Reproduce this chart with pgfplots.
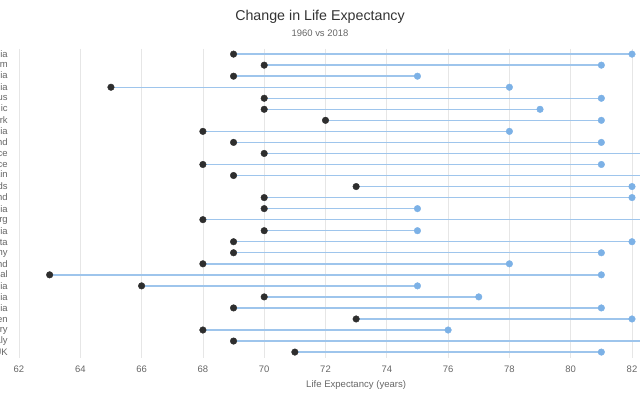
\documentclass[border=0pt]{standalone}
\usepackage{fontspec}
\setmainfont{Liberation Sans}
\usepackage{pgfplots}
\pgfplotsset{compat=1.18}
\usepackage{pgfplotstable}

\definecolor{titlegray}{HTML}{333333}
\definecolor{labelgray}{HTML}{666666}
\definecolor{gridgray}{HTML}{E6E6E6}
\definecolor{dotdark}{HTML}{2E2E2E}
\definecolor{dotblue}{HTML}{7CB1E6}
\definecolor{lineblue}{HTML}{9EC5EC}

% row, life expectancy 1960, life expectancy 2018
\pgfplotstableread{
row y1960 y2018
0  69 82
1  70 81
2  69 75
3  65 78
4  70 81
5  70 79
6  72 81
7  68 78
8  69 81
9  70 83
10 68 81
11 69 83
12 73 82
13 70 82
14 70 75
15 68 83
16 70 75
17 69 82
18 69 81
19 68 78
20 63 81
21 66 75
22 70 77
23 69 81
24 73 82
25 68 76
26 69 83
27 71 81
}\lifetable

\begin{document}
\begin{tikzpicture}
\useasboundingbox (0bp,0bp) rectangle (640bp,400bp);
\clip (0bp,0bp) rectangle (640bp,400bp);

\begin{axis}[
  at={(19bp,42.4bp)}, anchor=south west,
  scale only axis,
  width=674.3bp, height=309bp,
  xmin=62, xmax=84,
  ymin=-0.5, ymax=27.5,
  y dir=reverse,
  xtick={62,64,...,82},
  ytick={0,...,27},
  yticklabels={Austria,Belgium,Bulgaria,Croatia,Cyprus,Czech Republic,Denmark,Estonia,Finland,France,Greece,Spain,Netherlands,Ireland,Lithuania,Luxembourg,Latvia,Malta,Germany,Poland,Portugal,Romania,Slovakia,Slovenia,Sweden,Hungary,Italy,UK},
  axis line style={draw=none},
  major tick length=0pt,
  xmajorgrids,
  grid style={gridgray, line width=0.8bp},
  tick label style={labelgray, font=\fontsize{9.5}{11}\selectfont},
  /pgf/number format/assume math mode=true,
  xticklabel style={yshift=-4.8bp},
  yticklabel style={xshift=-7.8bp},
  xlabel={Life Expectancy (years)},
  xlabel style={at={(axis description cs:0.5,0)}, anchor=center, yshift=-27.5bp,
    labelgray, font=\fontsize{9.6}{11}\selectfont},
]

\addplot[only marks, mark=none, forget plot,
  error bars/.cd, x dir=plus, x explicit, error mark=none,
  error bar style={lineblue, line width=1.4bp}]
  table[x=y1960, y=row, x error expr=\thisrow{y2018}-\thisrow{y1960}] {\lifetable};

\addplot[only marks, mark=*, mark size=3.3bp,
  mark options={draw=dotdark, fill=dotdark}]
  table[x=y1960, y=row] {\lifetable};

\addplot[only marks, mark=*, mark size=3.3bp,
  mark options={draw=dotblue, fill=dotblue}]
  table[x=y2018, y=row] {\lifetable};

\end{axis}

\node[titlegray, font=\fontsize{14.3}{16}\selectfont] at (320bp,383.5bp) {Change in Life Expectancy};
\node[labelgray, font=\fontsize{9.5}{11}\selectfont] at (320bp,366.5bp) {1960 vs 2018};
\end{tikzpicture}
\end{document}
